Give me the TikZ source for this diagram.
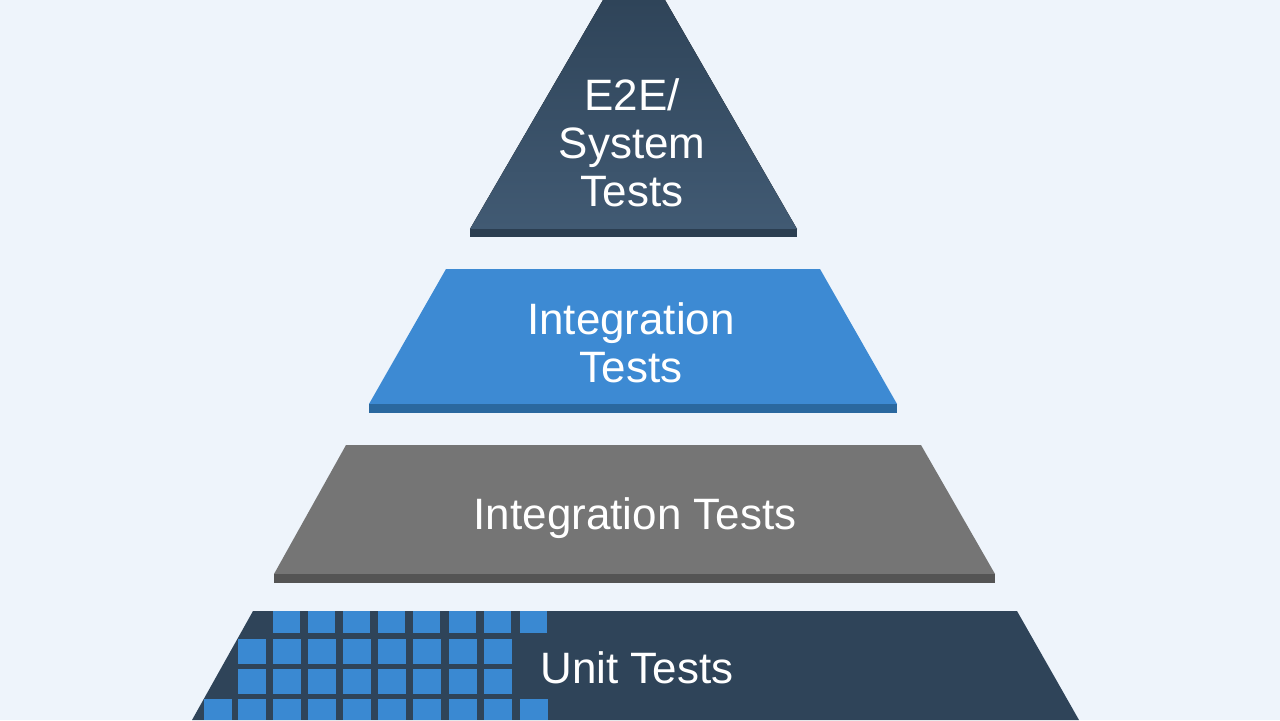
\documentclass[tikz,border=0pt]{standalone}
\usepackage{fontspec}
\setmainfont{Liberation Sans}
\usepackage{xcolor}
\definecolor{pagebg}{HTML}{EEF4FB}
\definecolor{navytop}{HTML}{2F4459}
\definecolor{navylow}{HTML}{415A73}
\definecolor{navylip}{HTML}{2B3E51}
\definecolor{bluetier}{HTML}{3D8AD3}
\definecolor{bluelip}{HTML}{2A689F}
\definecolor{graytier}{HTML}{757575}
\definecolor{graylip}{HTML}{545454}
\definecolor{unitcell}{HTML}{3A89D2}
\tikzset{
  tierlabel/.style={text=white, align=center, font=\fontsize{12.5}{13.65}\selectfont, inner sep=0pt},
  unitsq/.style={fill=unitcell, draw=none}
}
\begin{document}
\begin{tikzpicture}[x=0.01cm, y=-0.01cm]
  \useasboundingbox (0,0) rectangle (1280,720);
  \clip (0,0) rectangle (1280,720);
  \fill[pagebg] (0,0) rectangle (1280,720);
  % top tier
  \fill[top color=navytop, bottom color=navylow] (603,0) -- (665,0) -- (797,229) -- (470,229) -- cycle;
  \fill[navylip] (470,229) rectangle (797,237);
  \node[tierlabel] (e2e) at (632,143) {E2E/\\System\\Tests};
  % second tier
  \fill[bluetier] (446,269) -- (820,269) -- (897,404) -- (369,404) -- cycle;
  \fill[bluelip] (369,404) rectangle (897,413);
  \node[tierlabel] (integrationblue) at (631,343) {Integration\\Tests};
  % third tier
  \fill[graytier] (346,445) -- (921,445) -- (995,574) -- (274,574) -- cycle;
  \fill[graylip] (274,574) rectangle (995,583);
  \node[tierlabel] (integrationgray) at (635,518) {Integration Tests};
  % bottom tier, runs off the page
  \fill[navytop] (253,611) -- (1017,611) -- (1079,720) -- (192,720) -- cycle;
  \foreach \x in {273,308,343,378,413,449,484,520}
    \fill[unitsq] (\x,611) rectangle +(27,22);
  \foreach \y in {639,669}
    \foreach \x in {238,273,308,343,378,413,449,484}
      \fill[unitsq] (\x,\y) rectangle +(28,25);
  \foreach \x in {204,238,273,308,343,378,413,449,484,520}
    \fill[unitsq] (\x,699) rectangle +(28,21);
  \node[tierlabel] (unit) at (637,668) {Unit Tests};
\end{tikzpicture}
\end{document}
